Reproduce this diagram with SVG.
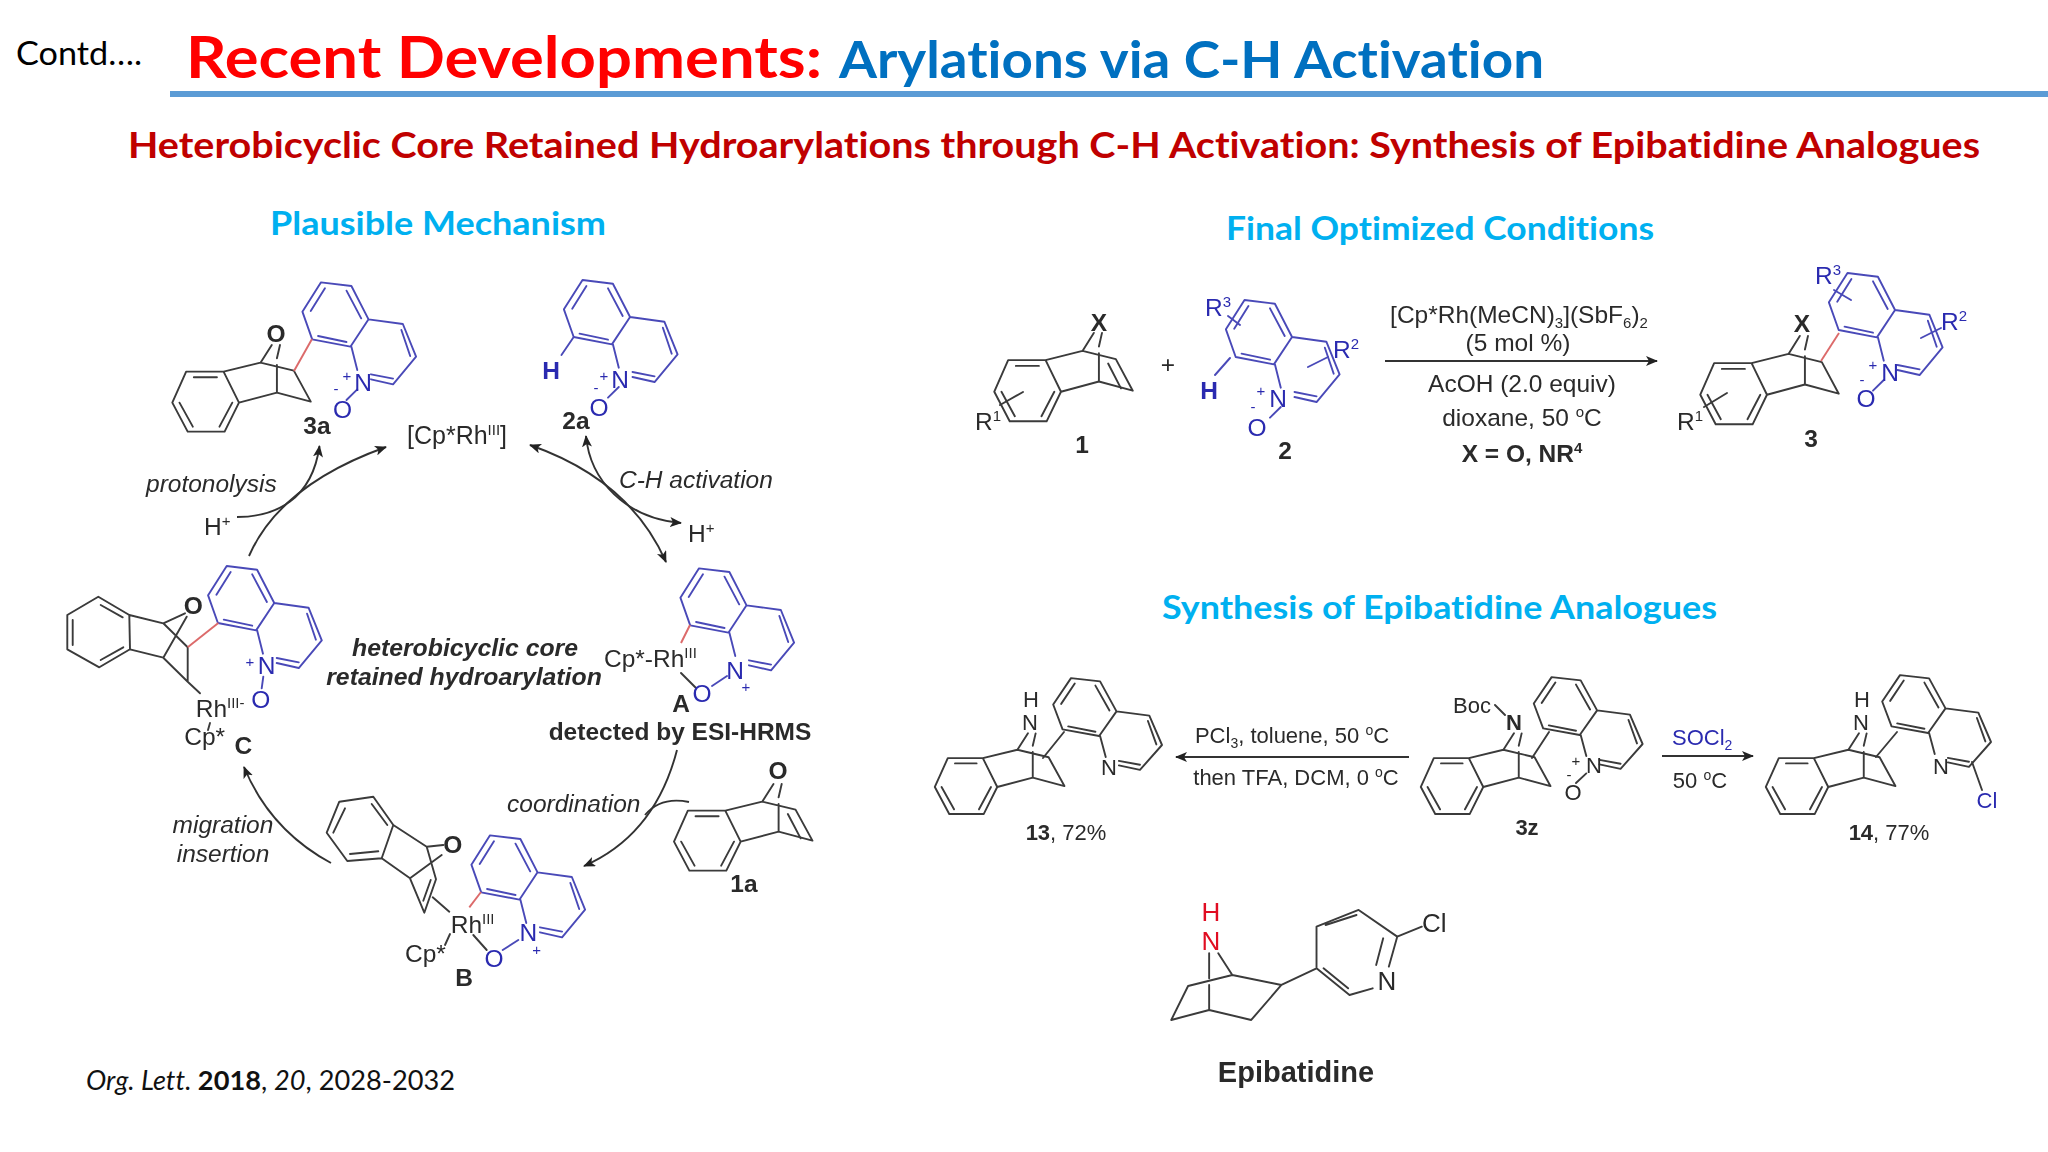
<svg xmlns="http://www.w3.org/2000/svg" width="2048" height="1152" viewBox="0 0 2048 1152">
<style>
text{font-family:"Liberation Sans",Arial,sans-serif}
.h{font-family:"Lato","Open Sans",sans-serif;font-weight:700;font-variant-ligatures:none}
.n{font-family:"Lato","Open Sans",sans-serif;font-variant-ligatures:none}
.a{font-size:24.5px;fill:#2a2a2a}
.c{text-anchor:middle}
.b{font-weight:700}
.i{font-style:italic}
.u{fill:#2c2cb0}
.m{font-size:15px}
.s{font-size:22px}
.k{fill:none;stroke:#3a3a3a;stroke-width:1.9;stroke-linejoin:round;stroke-linecap:round}
.ub{fill:none;stroke:#4a4ab8;stroke-width:1.9;stroke-linejoin:round;stroke-linecap:round}
.r{fill:none;stroke:#dc6a6a;stroke-width:1.9}
.k path,.ub path,.r path{vector-effect:non-scaling-stroke}
.arr{fill:none;stroke:#333;stroke-width:1.9}
.soft{filter:url(#soft)}
</style>
<defs>
<filter id="soft" x="-5%" y="-5%" width="110%" height="110%"><feGaussianBlur stdDeviation="0.45"/></filter>
<marker id="ah" markerUnits="userSpaceOnUse" markerWidth="12" markerHeight="10" refX="11" refY="5" orient="auto"><path d="M0 0L12 5L0 10L3 5Z" fill="#222"/></marker>
<marker id="ahs" markerUnits="userSpaceOnUse" markerWidth="12" markerHeight="10" refX="1" refY="5" orient="auto"><path d="M12 0L0 5L12 10L9 5Z" fill="#222"/></marker>
<g id="quin"><path vector-effect="non-scaling-stroke" d="M548 97L610 108L645 208L608 290L530 268L510 185ZM645 208L715 222L742 320L695 403L650 388M610 290L622 360M527 183L556 115M600 122L630 205M542 258L600 276M712 240L730 318M650 373L695 386"/></g>
<g id="bicy"><path vector-effect="non-scaling-stroke" d="M285 365L358 365L388 458L360 545L288 545L258 458ZM300 382L345 382M375 458L350 530M272 458L298 530M358 365L430 338L495 362L528 455L462 428L388 458M430 338L452 285M462 428L462 345M462 325L468 285"/></g>
</defs>
<rect width="2048" height="1152" fill="#fff"/>

<g id="header">
<text x="16" y="65" class="n" font-size="32" fill="#000" textLength="126" lengthAdjust="spacingAndGlyphs">Contd….</text>
<text x="186" y="78" class="h" font-size="58" fill="#ff0000" textLength="636" lengthAdjust="spacingAndGlyphs">Recent Developments:</text>
<text x="839" y="78" class="h" font-size="52" fill="#0070c0" textLength="705" lengthAdjust="spacingAndGlyphs">Arylations via C-H Activation</text>
<rect x="170" y="91" width="1878" height="6" fill="#5b9bd5"/>
<text x="128" y="158" class="h" font-size="36" fill="#c00000" textLength="1852" lengthAdjust="spacingAndGlyphs">Heterobicyclic Core Retained Hydroarylations through C-H Activation: Synthesis of Epibatidine Analogues</text>
<text x="270" y="235" class="h" font-size="33" fill="#00b0f0" textLength="336" lengthAdjust="spacingAndGlyphs">Plausible Mechanism</text>
<text x="1226" y="240" class="h" font-size="33" fill="#00b0f0" textLength="428" lengthAdjust="spacingAndGlyphs">Final Optimized Conditions</text>
<text x="1162" y="619" class="h" font-size="33" fill="#00b0f0" textLength="555" lengthAdjust="spacingAndGlyphs">Synthesis of Epibatidine Analogues</text>
<text x="86" y="1090" class="n" font-size="27" fill="#111" textLength="369" lengthAdjust="spacingAndGlyphs"><tspan font-style="italic">Org. Lett. </tspan><tspan font-weight="700">2018</tspan>, <tspan font-style="italic">20</tspan>, 2028-2032</text>
</g>

<g id="connectors" class="soft">
<path class="arr" marker-end="url(#ah)" d="M249 556Q280 485 386 447"/>
<path class="arr" marker-end="url(#ah)" d="M237 517C275 517 312 500 319.5 446"/>
<path class="arr" marker-start="url(#ahs)" marker-end="url(#ah)" d="M530 445Q630 480 666 562"/>
<path class="arr" marker-start="url(#ahs)" marker-end="url(#ah)" d="M586 436C590 480 625 518 681 523"/>
<path class="arr" marker-end="url(#ah)" d="M677 750Q655 835 584 866"/>
<path class="arr" d="M689 802C670 798 655 803 645 815"/>
<path class="arr" marker-end="url(#ah)" d="M331 863Q270 830 244 767"/>
<path class="arr" marker-end="url(#ah)" d="M1385 361H1657"/>
<path class="arr" marker-end="url(#ah)" d="M1409 757H1176"/>
<path class="arr" marker-end="url(#ah)" d="M1662 756H1753"/>
</g>

<g id="cpd-3a" class="soft">
<g class="ub" transform="translate(52.5 250) scale(.49 .3333)"><use href="#quin"/><path d="M622 418L600 450"/></g>
<g class="k" transform="translate(40 250) scale(.5128 .3333)"><use href="#bicy"/></g>
<path class="r" d="M312 339L294 371"/>
<text x="276" y="342" class="a c b">O</text>
<text x="363" y="391" class="a c u">N</text><text x="347" y="381" class="a c u m">+</text>
<text x="336" y="394" class="a c u m">-</text><text x="342.5" y="418" class="a c u">O</text>
<text x="317" y="434" class="a c b">3a</text>
</g>

<g id="cpd-2a" class="soft">
<g class="ub" transform="translate(314 247.7) scale(.49 .3333)"><use href="#quin"/><path d="M622 418L600 450M530 268L505 322"/></g>
<text x="551" y="379" class="a c b u">H</text>
<text x="620" y="388" class="a c u">N</text><text x="604" y="381" class="a c u m">+</text>
<text x="596" y="393" class="a c u m">-</text><text x="599" y="416" class="a c u">O</text>
<text x="576" y="429" class="a c b">2a</text>
</g>

<g id="catalyst" class="soft"><text x="407" y="444" class="a" style="font-size:25px">[Cp*Rh<tspan font-size="15" dy="-9">III</tspan><tspan dy="9">]</tspan></text></g>

<g id="cpd-A" class="soft">
<g class="ub" transform="translate(430.5 536) scale(.49 .3333)"><use href="#quin"/></g>
<path class="r" d="M690 625L681 643"/>
<path class="k" d="M681 673L696 688"/>
<path class="ub" d="M712 686L727 676"/>
<text x="604" y="667" class="a">Cp*-Rh<tspan font-size="15" dy="-9">III</tspan></text>
<text x="735" y="679" class="a c u">N</text><text x="746" y="692" class="a c u m">+</text>
<text x="702" y="702" class="a c u">O</text>
<text x="681" y="712" class="a c b">A</text>
</g>

<g id="cpd-1a" class="soft">
<g class="k" transform="translate(541.7 689) scale(.5128 .3333)"><use href="#bicy"/><path d="M480 375L505 448"/></g>
<text x="778" y="779" class="a c b">O</text>
<text x="744" y="892" class="a c b">1a</text>
</g>

<g id="cpd-B" class="soft">
<g class="ub" transform="translate(221.5 803) scale(.49 .3333)"><use href="#quin"/></g>
<path class="k" d="M339.3 801.7L373.3 796.7L393.3 825L381.7 858.3L347.3 861L326.7 832.7ZM333.3 832.7L345 808.3M371.7 804L387.3 825M350 854L378.3 851.3M393.3 825L426.7 846.7L443.3 845M381.7 858.3L410 878.3L441.7 855M426.7 846.7L436 879.3L424.3 912.7L410 878.3M430.7 880L423.3 900.7M432.7 897.3L449.3 911.7M450 934L445 945M473.3 935L486.7 950"/>
<path class="r" d="M481 892L469.3 907.3"/>
<path class="ub" d="M502.7 950L518.3 940"/>
<text x="452.7" y="853" class="a c b">O</text>
<text x="450.7" y="932.7" class="a">Rh<tspan font-size="15" dy="-9">III</tspan></text>
<text x="405" y="961.7" class="a">Cp*</text>
<text x="494" y="966.7" class="a c u">O</text>
<text x="528.3" y="941" class="a c u">N</text><text x="536.7" y="955" class="a c u m">+</text>
<text x="464" y="986" class="a c b">B</text>
</g>

<g id="cpd-C" class="soft">
<g class="ub" transform="translate(-41.8 533.7) scale(.49 .3333)"><use href="#quin"/></g>
<path class="k" d="M98.3 596.7L129.3 615L130 649.3L99.3 667.3L67.3 649.3L67.3 615ZM72.7 620L72.7 645M100.7 605L122.7 617.3M100.7 660L123.3 647.3M129.3 615L163.3 623.3L187.7 647.3L187.7 681.7L163.3 657.7L130 649.3M163.3 623.3L185 613.3M163.3 657.7L186.7 616.7M187.7 681.7L200 693.3M210 723L208 730"/>
<path class="r" d="M187.7 647.3L218.3 623"/>
<path class="ub" d="M263.3 676.7L261.7 688.3"/>
<text x="193.3" y="614.3" class="a c b">O</text>
<text x="266.7" y="674" class="a c u">N</text><text x="250" y="667" class="a c u m">+</text>
<text x="195.7" y="716.7" class="a">Rh<tspan font-size="15" dy="-9">III-</tspan></text>
<text x="260.7" y="708.3" class="a c u">O</text>
<text x="184.3" y="745" class="a">Cp*</text>
<text x="243.3" y="754.3" class="a c b">C</text>
</g>

<g id="mechanism-labels" class="soft">
<text x="146" y="492" class="a i">protonolysis</text>
<text x="204" y="535" class="a">H<tspan font-size="15" dy="-9">+</tspan></text>
<text x="688" y="542" class="a">H<tspan font-size="15" dy="-9">+</tspan></text>
<text x="619" y="488" class="a i">C-H activation</text>
<text x="465" y="656" class="a c b i" style="font-size:24.8px">heterobicyclic core</text>
<text x="464" y="685" class="a c b i" style="font-size:24.8px">retained hydroarylation</text>
<text x="680" y="740" class="a c b">detected by ESI-HRMS</text>
<text x="507" y="812" class="a i">coordination</text>
<text x="223" y="833" class="a c i">migration</text>
<text x="223" y="862" class="a c i">insertion</text>
</g>

<g id="cpd-1" class="soft">
<g class="k" transform="translate(862 236) scale(.5128 .34)"><use href="#bicy"/><path d="M480 375L505 448"/></g>
<path class="k" d="M1000 405L1023 392"/>
<text x="1099" y="331" class="a c b">X</text>
<text x="975" y="430" class="a">R<tspan font-size="15" dy="-9">1</tspan></text>
<text x="1082" y="453" class="a c b">1</text>
</g>
<g id="plus" class="soft"><text x="1168" y="373" class="a c">+</text></g>
<g id="cpd-2" class="soft">
<g class="ub" transform="translate(976 267.7) scale(.49 .3333)"><use href="#quin"/><path d="M622 418L600 450"/></g>
<path class="ub" d="M1228 316L1240 325M1308 367L1328 357M1230 358L1215 375"/>
<text x="1205" y="316" class="a u">R<tspan font-size="15" dy="-9">3</tspan></text>
<text x="1333" y="358" class="a u">R<tspan font-size="15" dy="-9">2</tspan></text>
<text x="1209" y="399" class="a c b u">H</text>
<text x="1278" y="407" class="a c u">N</text><text x="1261" y="396" class="a c u m">+</text>
<text x="1253" y="412" class="a c u m">-</text><text x="1257" y="436" class="a c u">O</text>
<text x="1285" y="459" class="a c b">2</text>
</g>
<g id="conditions" class="soft">
<text x="1519" y="323" class="a c">[Cp*Rh(MeCN)<tspan font-size="15" dy="5">3</tspan><tspan dy="-5">](SbF</tspan><tspan font-size="15" dy="5">6</tspan><tspan dy="-5">)</tspan><tspan font-size="15" dy="5">2</tspan></text>
<text x="1518" y="351" class="a c">(5 mol %)</text>
<text x="1522" y="392" class="a c">AcOH (2.0 equiv)</text>
<text x="1522" y="426" class="a c">dioxane, 50 <tspan font-size="15" dy="-9">o</tspan><tspan dy="9">C</tspan></text>
<text x="1522" y="462" class="a c b">X = O, NR<tspan font-size="15" dy="-9">4</tspan></text>
</g>
<g id="cpd-3" class="soft">
<g class="ub" transform="translate(1579 240.7) scale(.49 .3333)"><use href="#quin"/><path d="M622 418L600 450"/></g>
<g class="k" transform="translate(1568 239) scale(.5128 .34)"><use href="#bicy"/></g>
<path class="r" d="M1839 333L1821 361"/>
<path class="k" d="M1704 407L1727 393"/>
<path class="ub" d="M1834 290L1851 300M1921 338L1941 328"/>
<text x="1802" y="332" class="a c b">X</text>
<text x="1677" y="430" class="a">R<tspan font-size="15" dy="-9">1</tspan></text>
<text x="1815" y="284" class="a u">R<tspan font-size="15" dy="-9">3</tspan></text>
<text x="1941" y="330" class="a u">R<tspan font-size="15" dy="-9">2</tspan></text>
<text x="1890" y="381" class="a c u">N</text><text x="1873" y="370" class="a c u m">+</text>
<text x="1862" y="385" class="a c u m">-</text><text x="1866" y="407" class="a c u">O</text>
<text x="1811" y="447" class="a c b">3</text>
</g>

<g id="cpd-13" class="soft">
<g class="k" transform="translate(814 649) scale(.469 .3)"><use href="#quin"/></g>
<g class="k" transform="translate(811 645) scale(.48 .31)"><use href="#bicy"/></g>
<path class="k" d="M1043 758L1064 732"/>
<text x="1031" y="707" class="a c s">H</text><text x="1030" y="730" class="a c s">N</text>
<text x="1109" y="775" class="a c s">N</text>
<text x="1066" y="840" class="a c s"><tspan class="b">13</tspan>, 72%</text>
</g>
<g id="cond-13" class="soft">
<text x="1292" y="743" class="a c s">PCl<tspan font-size="14" dy="5">3</tspan><tspan dy="-5">, toluene, 50 </tspan><tspan font-size="14" dy="-8">o</tspan><tspan dy="8">C</tspan></text>
<text x="1296" y="785" class="a c s">then TFA, DCM, 0 <tspan font-size="14" dy="-8">o</tspan><tspan dy="8">C</tspan></text>
</g>
<g id="cpd-3z" class="soft">
<g class="k" transform="translate(1294.6 648) scale(.469 .3)"><use href="#quin"/><path d="M622 418L600 450"/></g>
<g class="k" transform="translate(1297 645) scale(.48 .31)"><use href="#bicy"/></g>
<path class="k" d="M1532 758L1549 732M1495 705L1505 715"/>
<text x="1453" y="713" class="a s">Boc</text>
<text x="1514" y="730" class="a c s b">N</text>
<text x="1594" y="773" class="a c s">N</text><text x="1576" y="766" class="a c m">+</text>
<text x="1569" y="780" class="a c m">-</text><text x="1573" y="800" class="a c s">O</text>
<text x="1527" y="835" class="a c s b">3z</text>
</g>
<g id="cond-14" class="soft">
<text x="1672" y="745" class="a s u">SOCl<tspan font-size="14" dy="5">2</tspan></text>
<text x="1700" y="788" class="a c s">50 <tspan font-size="14" dy="-8">o</tspan><tspan dy="8">C</tspan></text>
</g>
<g id="cpd-14" class="soft">
<g class="k" transform="translate(1643 646) scale(.469 .3)"><use href="#quin"/></g>
<g class="k" transform="translate(1642 645) scale(.48 .31)"><use href="#bicy"/></g>
<path class="k" d="M1876 757L1897 732M1972 762L1982 790"/>
<text x="1862" y="707" class="a c s">H</text><text x="1861" y="730" class="a c s">N</text>
<text x="1941" y="774" class="a c s">N</text>
<text x="1987" y="808" class="a c s u">Cl</text>
<text x="1889" y="840" class="a c s"><tspan class="b">14</tspan>, 77%</text>
</g>

<g id="epibatidine" class="soft">
<g class="k" transform="translate(920 660) scale(.7018 .3333)"><path d="M425 880L445 945L515 975L472 1080L412 1050L358 1080L382 978L445 945M412 880L412 955M412 975L412 1050M515 975L565 925L565 800L625 750L680 830L668 920M645 985L612 1005L565 925M680 830L715 800M578 795L622 765M660 835L650 915M575 925L610 985"/></g>
<text x="1211" y="921" class="a c" style="fill:#e01020;font-size:26px">H</text>
<text x="1211" y="950" class="a c" style="fill:#e01020;font-size:26px">N</text>
<text x="1422" y="932" class="a" style="font-size:26px">Cl</text>
<text x="1387" y="990" class="a c" style="font-size:26px">N</text>
<text x="1296" y="1082" class="a c b" style="font-size:29px">Epibatidine</text>
</g>
</svg>
